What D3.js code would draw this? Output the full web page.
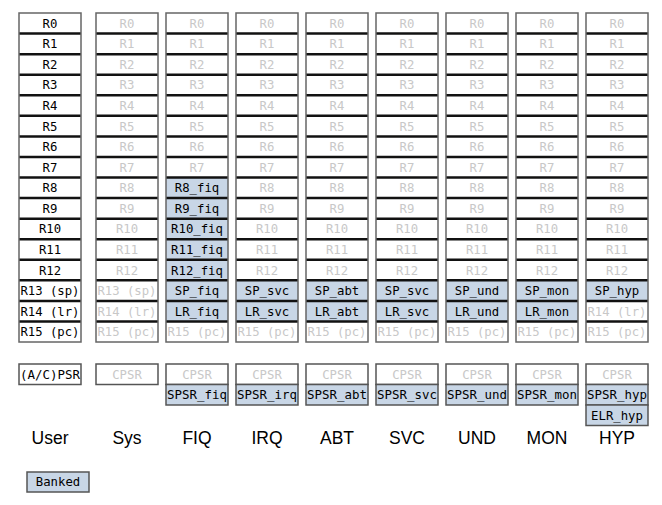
<!DOCTYPE html>
<html><head><meta charset="utf-8">
<script src="https://cdn.jsdelivr.net/npm/d3@7"></script>
<style>body{margin:0;background:#fff}</style>
</head><body>
<script>
const modes = ["User","Sys","FIQ","IRQ","ABT","SVC","UND","MON","HYP"];
const regs = ["R0","R1","R2","R3","R4","R5","R6","R7","R8","R9","R10","R11","R12","R13 (sp)","R14 (lr)","R15 (pc)"];
// banked register names per mode (index -> name)
const bankedFIQ = {8:"R8_fiq",9:"R9_fiq",10:"R10_fiq",11:"R11_fiq",12:"R12_fiq",13:"SP_fiq",14:"LR_fiq"};
const bankedOther = {
  IRQ:{13:"SP_svc",14:"LR_svc"}, ABT:{13:"SP_abt",14:"LR_abt"}, SVC:{13:"SP_svc",14:"LR_svc"},
  UND:{13:"SP_und",14:"LR_und"}, MON:{13:"SP_mon",14:"LR_mon"}, HYP:{13:"SP_hyp"}
};
const psrExtra = {FIQ:["SPSR_fiq"],IRQ:["SPSR_irq"],ABT:["SPSR_abt"],SVC:["SPSR_svc"],UND:["SPSR_und"],MON:["SPSR_mon"],HYP:["SPSR_hyp","ELR_hyp"]};

const W=662,H=505, colW=62, blue="#c8d6e6";
const svg=d3.select("body").append("svg").attr("width",W).attr("height",H);
const x=d3.scaleLinear().domain([1,8]).range([96,586]);
const xOf=i=> i===0?19:x(i);
const y=d3.scaleBand().domain(regs).range([13,342]);
const mono="'DejaVu Sans Mono', monospace";
const fs=12.3;

modes.forEach((m,i)=>{
  const g=svg.append("g").attr("transform",`translate(${xOf(i)},0)`);
  const bank = m==="FIQ"?bankedFIQ:(bankedOther[m]||{});
  regs.forEach((r,k)=>{
    const b=bank[k];
    const t=b||r;
    g.append("rect").attr("x",0).attr("y",y(r)).attr("width",colW).attr("height",y.bandwidth())
      .attr("fill",b?blue:"#fff");
    g.append("text").attr("x",colW/2).attr("y",y(r)+y.bandwidth()/2+4.5).attr("text-anchor","middle")
      .attr("font-family",mono).attr("font-size",fs)
      .attr("textLength",t.length>7?59:null).attr("lengthAdjust","spacingAndGlyphs")
      .attr("fill",b||i===0?"#000":"#c8c8c8").text(t);
  });
  regs.slice(1).forEach(r=>{
    g.append("line").attr("x1",0).attr("x2",colW).attr("y1",y(r)).attr("y2",y(r)).attr("stroke","#111").attr("stroke-width",2.5);
  });
  g.append("rect").attr("x",0).attr("y",13).attr("width",colW).attr("height",342-13)
    .attr("fill","none").attr("stroke","#666").attr("stroke-width",1.5);
  // PSR
  const cells=[i===0?"(A/C)PSR":"CPSR"].concat(psrExtra[m]||[]);
  cells.forEach((c,j)=>{
    const yy=364+j*20.5, shaded=j>0;
    g.append("rect").attr("x",0).attr("y",yy).attr("width",colW).attr("height",20.5)
      .attr("fill",shaded?blue:"#fff").attr("stroke","#555").attr("stroke-width",1.5);
    g.append("text").attr("x",colW/2).attr("y",yy+14.5).attr("text-anchor","middle")
      .attr("font-family",mono).attr("font-size",fs).attr("textLength",c.length>7?60:null)
      .attr("lengthAdjust","spacingAndGlyphs")
      .attr("fill",shaded||i===0?"#000":"#c8c8c8").text(c);
  });
  svg.append("text").attr("x",xOf(i)+colW/2).attr("y",444).attr("text-anchor","middle")
    .attr("font-family","'Liberation Sans', Arial, sans-serif").attr("font-size",17.5).text(m);
});
svg.append("rect").attr("x",27).attr("y",472).attr("width",62).attr("height",20)
  .attr("fill",blue).attr("stroke","#555").attr("stroke-width",1.5);
svg.append("text").attr("x",58).attr("y",486).attr("text-anchor","middle")
  .attr("font-family",mono).attr("font-size",fs).text("Banked");
</script>
</body></html>
